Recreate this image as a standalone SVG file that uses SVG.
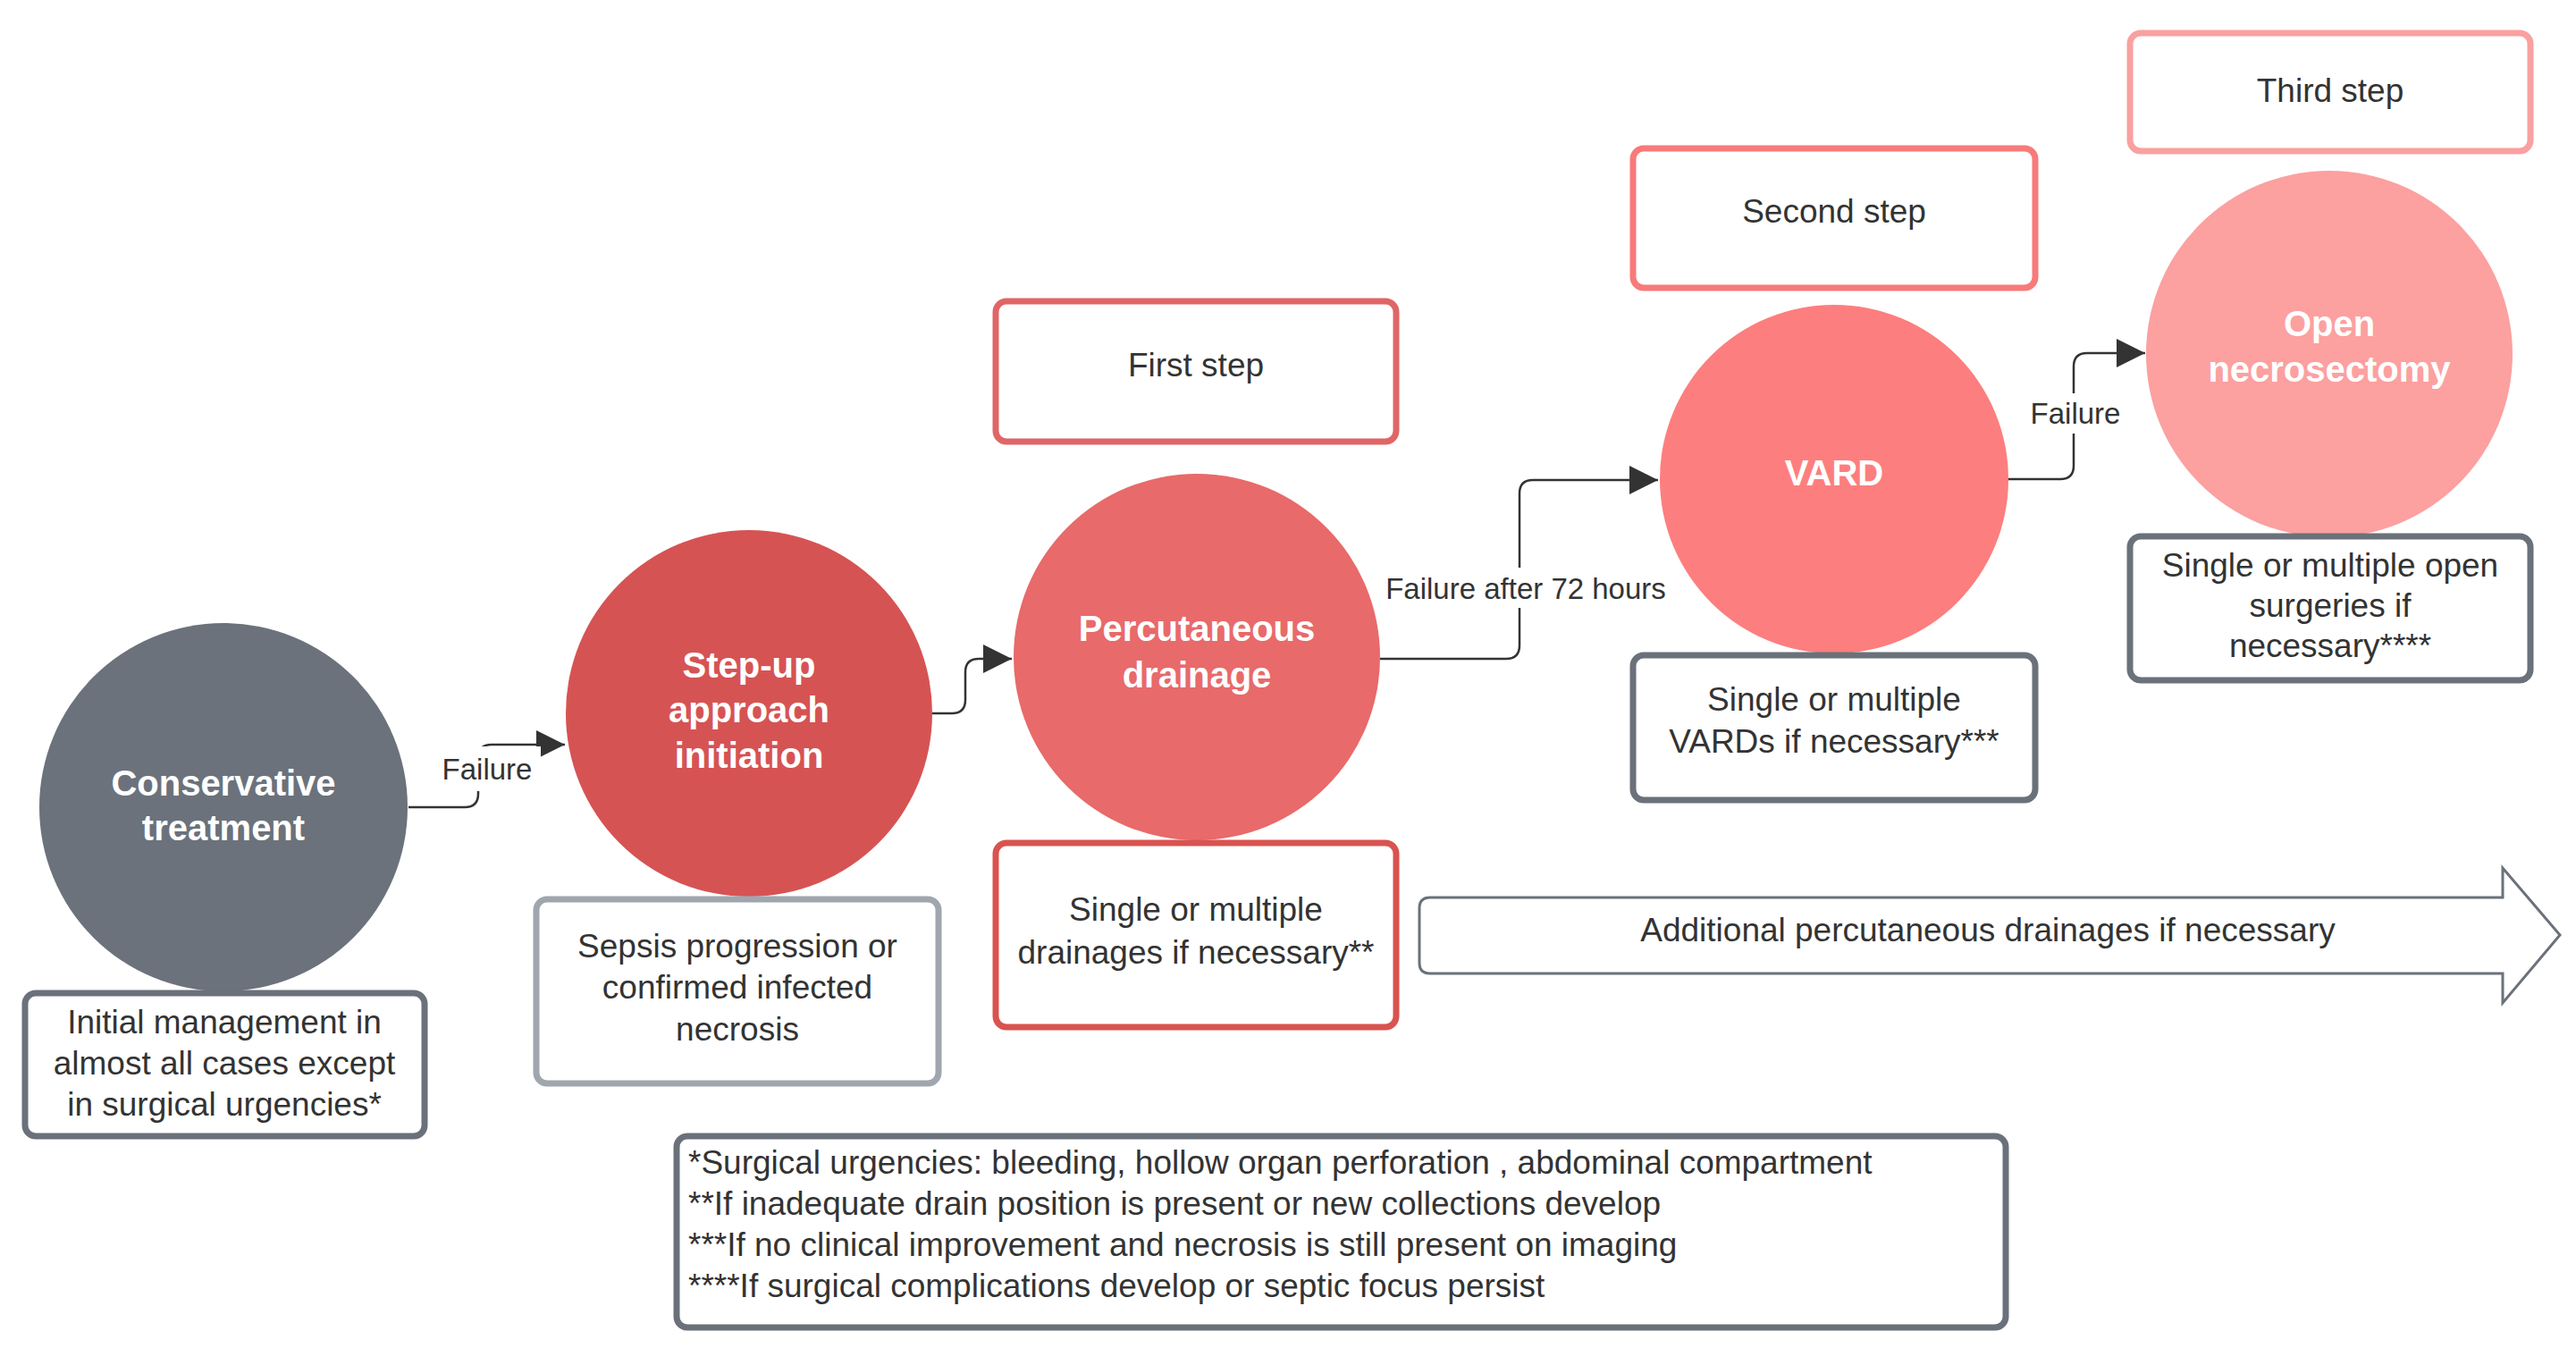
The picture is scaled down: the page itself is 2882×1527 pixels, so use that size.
<svg xmlns="http://www.w3.org/2000/svg" width="2882" height="1527" viewBox="0 0 2882 1527">
<defs>
<marker id="ah" viewBox="0 0 10 10" refX="10" refY="5" markerWidth="9" markerHeight="9" markerUnits="userSpaceOnUse" orient="auto"><path d="M0,0 L10,5 L0,10 z" fill="#333"/></marker>
<marker id="ah2" viewBox="0 0 10 10" refX="10" refY="5" markerWidth="36" markerHeight="32" markerUnits="userSpaceOnUse" orient="auto"><path d="M0,0 L10,5 L0,10 z" fill="#333"/></marker>
<style>
.nt{font-family:"Liberation Sans",Arial,sans-serif;font-weight:bold;font-size:40px;fill:#fff;text-anchor:middle}
.bt{font-family:"Liberation Sans",Arial,sans-serif;font-size:37px;fill:#333;text-anchor:middle}
.lb{font-family:"Liberation Sans",Arial,sans-serif;font-size:33px;fill:#333;text-anchor:middle}
.fn{font-family:"Liberation Sans",Arial,sans-serif;font-size:37px;fill:#333}
.box{fill:#fff;stroke-width:7}
.g{stroke:#6b717a}
.lg{stroke:#a0a6ae}
.conn{fill:none;stroke:#333;stroke-width:2.5}
</style>
</defs>
<rect width="2882" height="1527" fill="#fff"/>
<g id="connectors">
<path class="conn" d="M457,903 H520 Q535,903 535,888 V848 Q535,833 550,833 H632" marker-end="url(#ah2)"/>
<rect x="485" y="835" width="120" height="50" fill="#fff"/>
<text class="lb" x="545" y="872">Failure</text>
<path class="conn" d="M1043,798 H1065 Q1080,798 1080,783 V752 Q1080,737 1095,737 H1132" marker-end="url(#ah2)"/>
<path class="conn" d="M1544,737 H1685 Q1700,737 1700,722 V552 Q1700,537 1715,537 H1855" marker-end="url(#ah2)"/>
<rect x="1545" y="635" width="325" height="45" fill="#fff"/>
<text class="lb" x="1707" y="670">Failure after 72 hours</text>
<path class="conn" d="M2244,536 H2305 Q2320,536 2320,521 V410 Q2320,395 2335,395 H2400" marker-end="url(#ah2)"/>
<rect x="2262" y="440" width="120" height="45" fill="#fff"/>
<text class="lb" x="2322" y="474">Failure</text>
</g>
<g id="conservative">
<circle cx="250" cy="903" r="206" fill="#6b727b"/>
<text class="nt" x="250" y="890">Conservative</text>
<text class="nt" x="250" y="940">treatment</text>
</g>
<g id="conservative-note">
<rect class="box g" x="28" y="1111" width="447" height="160" rx="12"/>
<text class="bt" x="251" y="1156">Initial management in</text>
<text class="bt" x="251" y="1202">almost all cases except</text>
<text class="bt" x="251" y="1248">in surgical urgencies*</text>
</g>
<g id="stepup">
<circle cx="838" cy="798" r="205" fill="#d65353"/>
<text class="nt" x="838" y="758">Step-up</text>
<text class="nt" x="838" y="808">approach</text>
<text class="nt" x="838" y="859">initiation</text>
</g>
<g id="stepup-note">
<rect class="box lg" x="600" y="1006" width="450" height="206" rx="12"/>
<text class="bt" x="825" y="1071">Sepsis progression or</text>
<text class="bt" x="825" y="1117">confirmed infected</text>
<text class="bt" x="825" y="1164">necrosis</text>
</g>
<g id="first-step">
<rect class="box" stroke="#e06666" x="1114" y="337" width="448" height="157" rx="12"/>
<text class="bt" x="1338" y="421">First step</text>
</g>
<g id="percutaneous">
<circle cx="1339" cy="735" r="205" fill="#e86a6a"/>
<text class="nt" x="1339" y="717">Percutaneous</text>
<text class="nt" x="1339" y="769">drainage</text>
</g>
<g id="percutaneous-note">
<rect class="box" stroke="#d9534f" x="1114" y="943" width="448" height="206" rx="12"/>
<text class="bt" x="1338" y="1030">Single or multiple</text>
<text class="bt" x="1338" y="1078">drainages if necessary**</text>
</g>
<g id="additional">
<path d="M1600,1004 H2800 V971 L2864,1046 L2800,1122 V1089 H1600 Q1588,1089 1588,1077 V1016 Q1588,1004 1600,1004 z" fill="#fff" stroke="#6b717a" stroke-width="3"/>
<text class="bt" x="2224" y="1053">Additional percutaneous drainages if necessary</text>
</g>
<g id="second-step">
<rect class="box" stroke="#f87a7a" x="1827" y="166" width="450" height="156" rx="12"/>
<text class="bt" x="2052" y="249">Second step</text>
</g>
<g id="vard">
<circle cx="2052" cy="536" r="195" fill="#fd7e7e"/>
<text class="nt" x="2052" y="543">VARD</text>
</g>
<g id="vard-note">
<rect class="box g" x="1827" y="733" width="450" height="162" rx="12"/>
<text class="bt" x="2052" y="795">Single or multiple</text>
<text class="bt" x="2052" y="842">VARDs if necessary***</text>
</g>
<g id="third-step">
<rect class="box" stroke="#f9a0a0" x="2383" y="37" width="448" height="132" rx="12"/>
<text class="bt" x="2607" y="114">Third step</text>
</g>
<g id="open">
<circle cx="2606" cy="396" r="205" fill="#fca0a0"/>
<text class="nt" x="2606" y="376">Open</text>
<text class="nt" x="2606" y="427">necrosectomy</text>
</g>
<g id="open-note">
<rect class="box g" x="2383" y="600" width="448" height="161" rx="12"/>
<text class="bt" x="2607" y="645">Single or multiple open</text>
<text class="bt" x="2607" y="690">surgeries if</text>
<text class="bt" x="2607" y="735">necessary****</text>
</g>
<g id="footnotes">
<rect class="box g" x="757" y="1271" width="1487" height="214" rx="12"/>
<text class="fn" x="770" y="1313">*Surgical urgencies: bleeding, hollow organ perforation , abdominal compartment</text>
<text class="fn" x="770" y="1359">**If inadequate drain position is present or new collections develop</text>
<text class="fn" x="770" y="1405">***If no clinical improvement and necrosis is still present on imaging</text>
<text class="fn" x="770" y="1451">****If surgical complications develop or septic focus persist</text>
</g>
</svg>
